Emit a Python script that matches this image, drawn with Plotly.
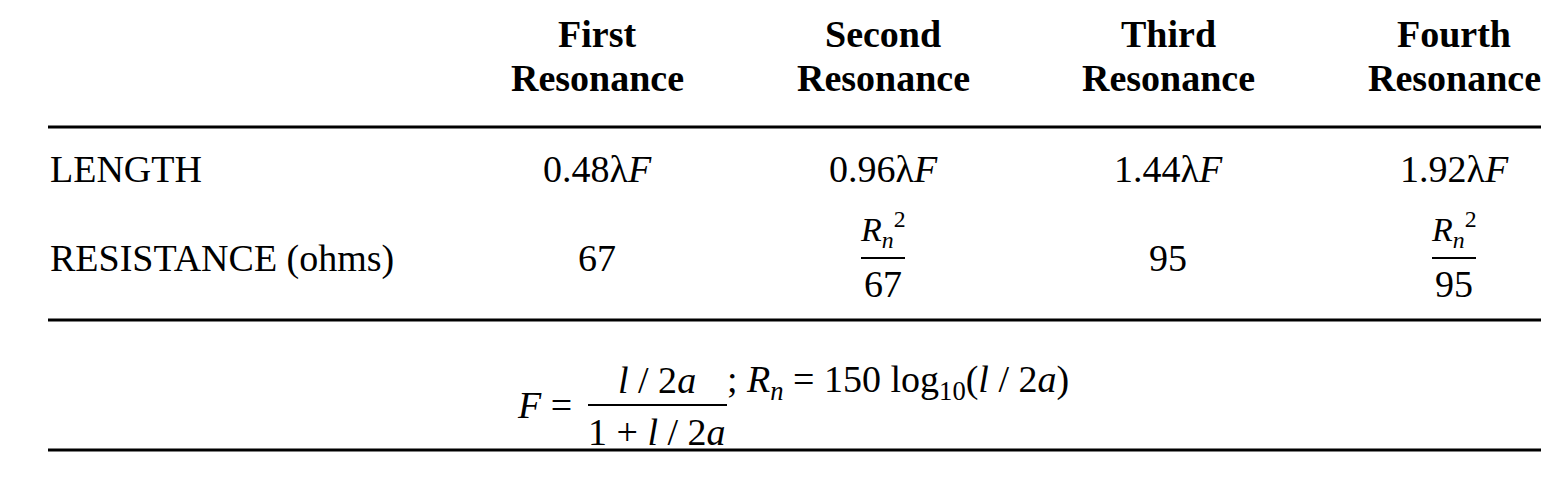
import plotly.graph_objects as go

headers_top = ["First", "Second", "Third", "Fourth"]
headers_bottom = ["Resonance", "Resonance", "Resonance", "Resonance"]
row_labels = ["LENGTH", "RESISTANCE (ohms)"]
length_vals = ["0.48", "0.96", "1.44", "1.92"]
resistance_vals = ["67", "67", "95", "95"]
resistance_is_fraction = [False, True, False, True]

W, H = 1561, 497
OFF = 8  # browser body margin
col_x = [597, 883, 1168, 1454]
FONT = "Liberation Serif, Times New Roman, serif"
S = 38

fig = go.Figure()
ann = []
shapes = []

def txt(x, y, t, size=S, xanchor="center", bold=False):
    if bold:
        t = "<b>" + t + "</b>"
    ann.append(dict(x=x, y=y, xref="x", yref="y", text=t, showarrow=False,
                    xanchor=xanchor, yanchor="middle",
                    font=dict(family=FONT, size=size, color="black")))

def hline(x0, x1, y, w):
    shapes.append(dict(type="line", xref="x", yref="y", x0=x0, x1=x1, y0=y, y1=y,
                       line=dict(color="black", width=w)))

for i, x in enumerate(col_x):
    txt(x, 34, headers_top[i], bold=True)
    txt(x, 78, headers_bottom[i], bold=True)
    txt(x, 169, length_vals[i] + "λ<i>F</i>")
    if resistance_is_fraction[i]:
        txt(x, 229, "<i>R</i><sub><i>n</i></sub><sup>2</sup>", size=34)
        hline(x - 22, x + 22, 258, 2)
        txt(x, 284, resistance_vals[i])
    else:
        txt(x, 258, resistance_vals[i])

txt(48, 169, row_labels[0], xanchor="left")
txt(48, 258, row_labels[1], xanchor="left")

hline(48, 1541, 127, 3)
hline(48, 1541, 320, 3)
hline(48, 1541, 450, 3)

# formula
txt(574, 405, "<i>F</i> =", xanchor="right")
txt(657, 380, "<i>l</i> / 2<i>a</i>")
hline(588, 727, 405, 2)
txt(657, 432, "1 + <i>l</i> / 2<i>a</i>")
txt(725, 382, "; <i>R<sub>n</sub></i> = 150 log<sub>10</sub>(<i>l</i> / 2<i>a</i>)", xanchor="left")

fig.update_layout(
    width=W, height=H, margin=dict(l=0, r=0, t=0, b=0),
    paper_bgcolor="white", plot_bgcolor="white",
    xaxis=dict(range=[OFF, W + OFF], visible=False, fixedrange=True),
    yaxis=dict(range=[H + OFF, OFF], visible=False, fixedrange=True),
    annotations=ann, shapes=shapes, showlegend=False,
)
fig.write_html("out.html")
